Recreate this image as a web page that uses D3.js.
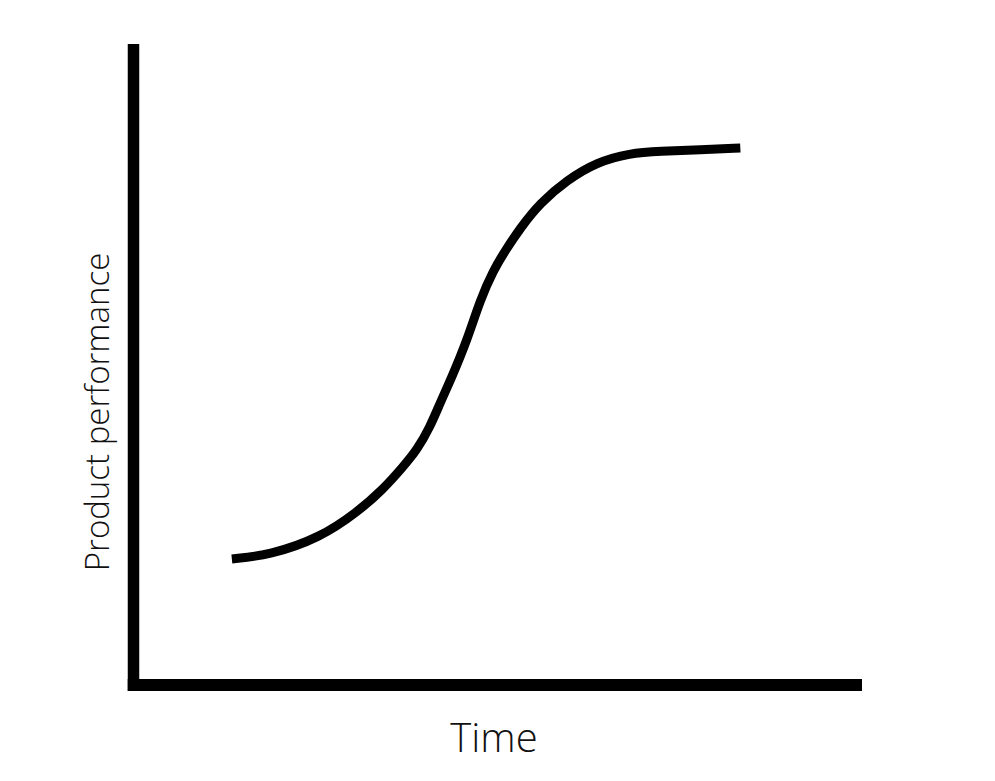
<!DOCTYPE html>
<html>
<head>
<meta charset="utf-8">
<script src="https://cdn.jsdelivr.net/npm/d3@7"></script>
<style>
  html, body { margin: 0; padding: 0; background: #fff; }
  svg { display: block; }
  text { font-family: "Open Sans", sans-serif; font-weight: 300; fill: #111; }
</style>
</head>
<body>
<svg id="chart" width="995" height="781"></svg>
<script>
// Data (abstract units)
const timeValues = [1.35, 1.87, 2.56, 3.07, 3.42, 3.70, 3.89, 4.07, 4.21, 4.37, 4.58, 4.76, 4.94, 5.11, 5.31, 5.58, 5.95, 6.36, 6.81, 7.23, 7.78, 8.33];
const performanceValues = [1.97, 2.03, 2.30, 2.70, 3.05, 3.41, 3.67, 4.03, 4.41, 4.81, 5.39, 6.02, 6.48, 6.80, 7.14, 7.53, 7.89, 8.17, 8.31, 8.34, 8.36, 8.39];
const xLabel = "Time";
const yLabel = "Product performance";

const svg = d3.select("#chart");
const x = d3.scaleLinear().domain([0, 10]).range([133.5, 862]);
const y = d3.scaleLinear().domain([0, 10]).range([685, 45]);

const points = timeValues.map((t, i) => [t, performanceValues[i]]);

// Curve
svg.append("path")
  .datum(points)
  .attr("fill", "none")
  .attr("stroke", "#000")
  .attr("stroke-width", 9)
  .attr("stroke-linecap", "butt")
  .attr("d", d3.line().x(d => x(d[0])).y(d => y(d[1])).curve(d3.curveBasis));

// Axes
svg.append("line")
  .attr("x1", x(0)).attr("x2", x(0))
  .attr("y1", y(10) - 1).attr("y2", y(0) + 6)
  .attr("stroke", "#000").attr("stroke-width", 11.5);
svg.append("line")
  .attr("x1", x(0) - 5.75).attr("x2", x(10))
  .attr("y1", y(0)).attr("y2", y(0))
  .attr("stroke", "#000").attr("stroke-width", 12);

// Labels
svg.append("text")
  .attr("x", 494).attr("y", 752)
  .attr("text-anchor", "middle")
  .attr("font-size", 40)
  .text(xLabel);

svg.append("text")
  .attr("transform", "translate(108.5,412) rotate(-90)")
  .attr("text-anchor", "middle")
  .attr("font-size", 33)
  .text(yLabel);
</script>
</body>
</html>
